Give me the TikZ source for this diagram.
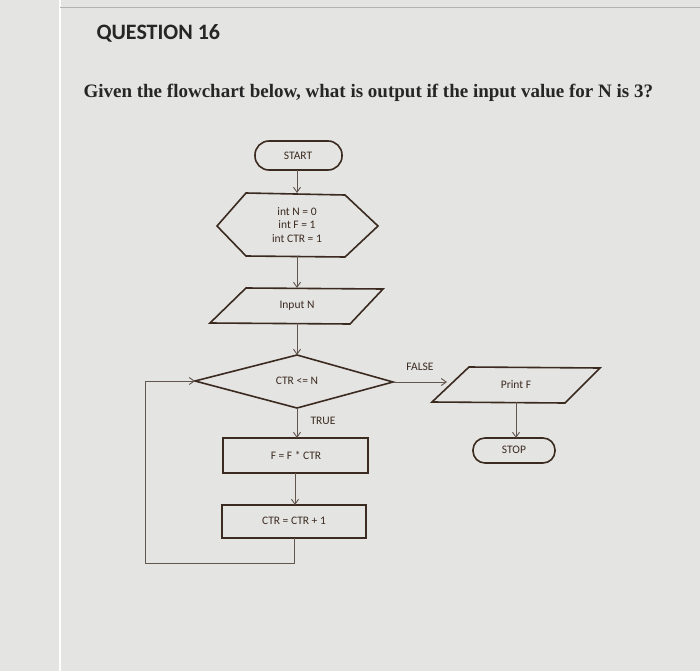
\documentclass[tikz,border=0pt]{standalone}
\usepackage{fontspec}
\setmainfont{Carlito}
\newfontfamily\qfont{Liberation Serif}
\usetikzlibrary{arrows.meta}
\definecolor{ink}{HTML}{3A2A20}
\definecolor{bg}{HTML}{E4E4E2}
\begin{document}
\begin{tikzpicture}[x=1pt,y=-1pt,
  shp/.style={draw=ink,line width=1.6pt},
  lbl/.style={font=\fontsize{11.5}{13.5}\selectfont,text=ink},
  conn/.style={draw=ink!80,line width=0.9pt,-{Straight Barb[length=5pt,width=7pt]}}]
\useasboundingbox (0,0) rectangle (700,671);
\fill[bg] (0,0) rectangle (700,671);
\draw[white,line width=2pt] (60,0) -- (60,671);
\draw[gray!60,line width=1pt] (60,8) -- (700,8);
\node[anchor=west,font=\bfseries\fontsize{22}{24}\selectfont,text=black!85] (title) at (93,33) {QUESTION 16};
\node[anchor=west,font=\qfont\bfseries\fontsize{19}{21}\selectfont,text=black!85] (q) at (80,93) {Given the flowchart below, what is output if the input value for N is 3?};
% START
\draw[shp,rounded corners=14pt] (255,141) rectangle (342,170);
\node[lbl] (start) at (298,155.5) {START};
% hexagon
\draw[shp] (217,226) -- (246,193) -- (345,195) -- (378,226) -- (345,257) -- (246,256) -- cycle;
\node[lbl,align=center] (init) at (297,225) {int N = 0\\int F = 1\\int CTR = 1};
% input parallelogram
\draw[shp] (246,288) -- (383,289) -- (350,324) -- (210,323) -- cycle;
\node[lbl] (inp) at (297,306) {Input N};
% diamond
\draw[shp] (195,381) -- (297,355) -- (393,382) -- (297,408) -- cycle;
\node[lbl] (dec) at (297,381) {CTR <= N};
% print
\draw[shp] (469,367) -- (600,368) -- (565,403) -- (432,402) -- cycle;
\node[lbl] (prt) at (516,385) {Print F};
% stop
\draw[shp,rounded corners=12pt] (473,438) rectangle (555,463);
\node[lbl] (stop) at (514,450) {STOP};
% boxes
\draw[shp] (223,438) rectangle (368,473);
\node[lbl] (mul) at (296,455) {F = F * CTR};
\draw[shp] (222,505) rectangle (366,538);
\node[lbl] (inc) at (294,521) {CTR = CTR + 1};
\node[lbl] (fl) at (420,367) {FALSE};
\node[lbl] (tr) at (323,421) {TRUE};
% connectors
\coordinate (a1) at (297,170); \coordinate (a2) at (297,193);
\coordinate (b1) at (297,256); \coordinate (b2) at (297,288);
\coordinate (c1) at (297,323); \coordinate (c2) at (297,355);
\coordinate (d1) at (297,408); \coordinate (d2) at (297,438);
\coordinate (e1) at (295,473); \coordinate (e2) at (295,505);
\coordinate (f1) at (393,382); \coordinate (f2) at (447,382);
\coordinate (g1) at (516,402); \coordinate (g2) at (516,438);
\coordinate (h1) at (294,538); \coordinate (h2) at (195,381);
\draw[conn] (a1) -- (a2);
\draw[conn] (b1) -- (b2);
\draw[conn] (c1) -- (c2);
\draw[conn] (d1) -- (d2);
\draw[conn] (e1) -- (e2);
\draw[conn] (f1) -- (f2);
\draw[conn] (g1) -- (g2);
\draw[conn] (h1) -- (294,563) -- (145,563) -- (145,381) -- (h2);
\end{tikzpicture}
\end{document}
